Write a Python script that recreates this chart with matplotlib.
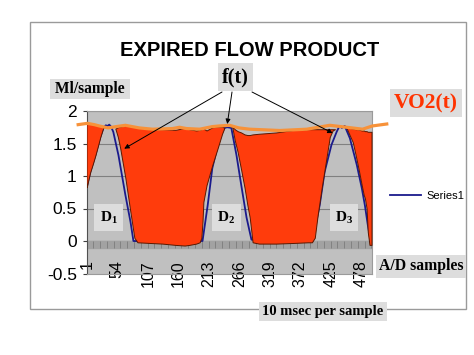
import numpy as np
import matplotlib
matplotlib.use("Agg")
import matplotlib.pyplot as plt
from matplotlib.patches import Rectangle

plt.rcParams['mathtext.fontset'] = 'custom'
plt.rcParams['mathtext.rm'] = 'Liberation Serif'
plt.rcParams['mathtext.bf'] = 'Liberation Serif:bold'

# Series1 (flow signal), sample number -> Ml/sample
blue_x = [1, 7, 16, 24.5, 30, 34, 37, 40, 43, 47, 56, 68, 77, 82, 120, 160, 202,
          211, 219, 231.5, 240, 245, 252, 261, 270, 278.5, 287, 330, 393,
          405.5, 414, 426, 435, 440, 444, 449, 458, 470, 478.5, 484, 489, 494]
blue_y = [0.83, 1.06, 1.32, 1.60, 1.74, 1.78, 1.77, 1.79, 1.76, 1.68, 1.32, 0.71, 0.29, 0.0, -0.01, 0.0, 0.0,
          0.55, 1.12, 1.58, 1.74, 1.75, 1.74, 1.32, 0.82, 0.36, 0.02, 0.0, 0.0,
          0.55, 1.06, 1.48, 1.68, 1.77, 1.74, 1.77, 1.58, 1.17, 0.82, 0.55, 0.25, 0.0]

# VO2(t) trace
vo2_x = [-14, 2, 14, 22.7, 38, 52, 68, 92, 115, 150, 162, 174, 197, 219, 231.5,
         249, 265, 284, 336, 383, 423, 452, 480, 497, 522]
vo2_y = [1.79, 1.81, 1.79, 1.77, 1.74, 1.76, 1.78, 1.74, 1.72, 1.73, 1.75, 1.73, 1.72, 1.76, 1.77,
         1.78, 1.74, 1.72, 1.70, 1.72, 1.78, 1.75, 1.72, 1.77, 1.80]

# flow product areas D1..D3 (x, top, bottom)
r1_x = [0.5, 1, 4, 7, 12, 16, 20, 24.5, 28, 30]
r1_top = [1.82, 1.82, 1.81, 1.80, 1.80, 1.79, 1.78, 1.77, 1.76, 1.75]
r1_bot = [0.85, 0.83, 0.95, 1.06, 1.20, 1.32, 1.45, 1.60, 1.70, 1.75]

r2_x = [50.6, 55, 59, 68, 76.7, 83.6, 89, 110, 132, 155, 171, 179, 191, 197, 200,
        202, 203.5, 209, 219, 228, 236, 240]
r2_top = [1.73, 1.75, 1.76, 1.78, 1.77, 1.76, 1.75, 1.72, 1.72, 1.71, 1.74, 1.72, 1.70, 1.71, 1.72,
          1.73, 1.73, 1.70, 1.75, 1.76, 1.76, 1.74]
r2_bot = [1.73, 1.60, 1.43, 0.97, 0.45, 0.05, -0.02, -0.03, -0.04, -0.06, -0.07, -0.06, -0.04, -0.02, 0.05,
          0.3, 0.6, 0.86, 1.17, 1.42, 1.65, 1.74]

r3_x = [252, 254, 258, 263, 269, 275, 280, 284, 289, 300, 330, 360, 385, 392, 397,
        402, 409, 418, 423, 428, 432]
r3_top = [1.76, 1.76, 1.72, 1.69, 1.67, 1.64, 1.63, 1.63, 1.64, 1.65, 1.67, 1.71, 1.72, 1.72, 1.72,
          1.72, 1.72, 1.72, 1.72, 1.72, 1.72]
r3_bot = [1.76, 1.74, 1.55, 1.37, 1.10, 0.82, 0.55, 0.36, -0.02, -0.04, -0.04, -0.03, -0.02, -0.02, 0.05,
          0.4, 0.82, 1.32, 1.60, 1.70, 1.72]

r4_x = [450, 452, 457, 463, 468, 471.6, 475, 478.5, 482, 484, 487, 489, 492, 495.5]
r4_top = [1.75, 1.75, 1.74, 1.73, 1.72, 1.72, 1.71, 1.70, 1.70, 1.69, 1.69, 1.68, 1.68, 1.68]
r4_bot = [1.75, 1.74, 1.64, 1.52, 1.32, 1.17, 1.02, 0.86, 0.71, 0.66, 0.50, 0.14, -0.06, -0.06]

x_ticks = [1, 54, 107, 160, 213, 266, 319, 372, 425, 478]
y_ticks = [-0.5, 0, 0.5, 1, 1.5, 2]
y_labels = ['-0.5', '0', '0.5', '1', '1.5', '2']

W, H = 474, 355
fig = plt.figure(figsize=(W / 100, H / 100), dpi=100)
ax = fig.add_axes([86.5 / W, 1 - 273.5 / H, 285 / W, 162.5 / H])
ax.set_facecolor('#c0c0c0')
ax.set_xlim(0.5, 495.5)
ax.set_ylim(-0.5, 2)

for yv in y_ticks[1:]:
    ax.axhline(yv, color='#808080', lw=0.8, zorder=0.5)

# category axis band at zero with its tick marks
ax.axhspan(-0.1, 0, color='#a2a2a2', zorder=1)
ax.vlines(np.arange(0.5, 496, 11.78), -0.1, 0, color='#7c7c7c', lw=0.6, zorder=1.1)

blue_line, = ax.plot(blue_x, blue_y, color='#1a1a8c', lw=1.3, zorder=2)

red = '#ff3c0c'
edge = '#5a1800'
for xs, top, bot in [(r1_x, r1_top, r1_bot), (r2_x, r2_top, r2_bot),
                     (r3_x, r3_top, r3_bot), (r4_x, r4_top, r4_bot)]:
    ax.fill_between(xs, bot, top, facecolor=red, edgecolor=edge, lw=0.7, zorder=3)

ax.plot(vo2_x, vo2_y, color='#f7923a', lw=2.3, zorder=4, clip_on=False)

ax.set_yticks(y_ticks)
ax.set_yticklabels(y_labels, fontsize=12.5, family='Liberation Sans')
ax.set_xticks(x_ticks)
ax.set_xticklabels([str(v) for v in x_ticks], rotation=90, fontsize=11.5,
                   family='Liberation Sans')
ax.tick_params(axis='x', length=0, pad=-9.5)
ax.tick_params(axis='y', length=3, width=0.8, color='#404040', pad=4)
for side in ['top', 'right', 'bottom']:
    ax.spines[side].set_color('#9a9a9a')
    ax.spines[side].set_linewidth(0.8)
ax.spines['left'].set_color('#505050')
ax.spines['left'].set_linewidth(0.8)

# chart frame
fig.add_artist(Rectangle((29.5 / W, 1 - 309 / H), 436.5 / W, 287 / H,
                         transform=fig.transFigure, fill=False,
                         edgecolor='#9a9a9a', lw=1))

fig.text(249.5 / W, 1 - 50.5 / H, 'EXPIRED FLOW PRODUCT', ha='center', va='center',
         fontsize=14.5, fontweight='bold', family='Liberation Sans')

box = dict(boxstyle='square,pad=0.2', facecolor='#dddddd', edgecolor='none')
serif = 'Liberation Serif'
fig.text(235.5 / W, 1 - 77 / H, 'f(t)', ha='center', va='center', fontsize=14.5,
         fontweight='bold', family=serif, bbox=box)
fig.text(90 / W, 1 - 89 / H, ' Ml/sample ', ha='center', va='center', fontsize=11.2,
         fontweight='bold', family=serif,
         bbox=dict(boxstyle='square,pad=0.1', facecolor='#dddddd', edgecolor='none'))
fig.text(426 / W, 1 - 103 / H, 'VO2(t)', ha='center', va='center', fontsize=15.5,
         fontweight='bold', family=serif, color='#ff3300', bbox=box)
fig.text(421 / W, 1 - 266.5 / H, 'A/D samples', ha='center', va='center', fontsize=11.3,
         fontweight='bold', family=serif, bbox=box)
fig.text(323 / W, 1 - 311.5 / H, '10 msec per sample', ha='center', va='center',
         fontsize=10.5, fontweight='bold', family=serif, bbox=box)

dbox = dict(boxstyle='square,pad=0.35', facecolor='#dddddd', edgecolor='none')
for label, cx in [('1', 108.5), ('2', 226.5), ('3', 344)]:
    fig.text(cx / W, 1 - 217.5 / H, r'$\mathbf{D}_{\mathbf{%s}}$' % label, ha='center',
             va='center', fontsize=11, bbox=dbox)

# arrows from f(t)
arrow = dict(arrowstyle='-|>', color='black', lw=0.7, mutation_scale=7,
             shrinkA=0, shrinkB=0)
for start_px, target in [(222, (66, 1.42)), (232, (245, 1.80)), (252, (428, 1.66))]:
    ax.annotate('', xy=target, xycoords='data',
                xytext=(start_px / W, 1 - 92 / H), textcoords='figure fraction',
                arrowprops=arrow, zorder=6, annotation_clip=False)

ax.legend([blue_line], ['Series1'], loc='center left',
          bbox_to_anchor=(390 / W, 1 - 196 / H), bbox_transform=fig.transFigure,
          frameon=False, handlelength=2.8, handletextpad=0.45, borderpad=0,
          borderaxespad=0, prop={'family': 'Liberation Sans', 'size': 8})

fig.savefig('out.png', dpi=100)
